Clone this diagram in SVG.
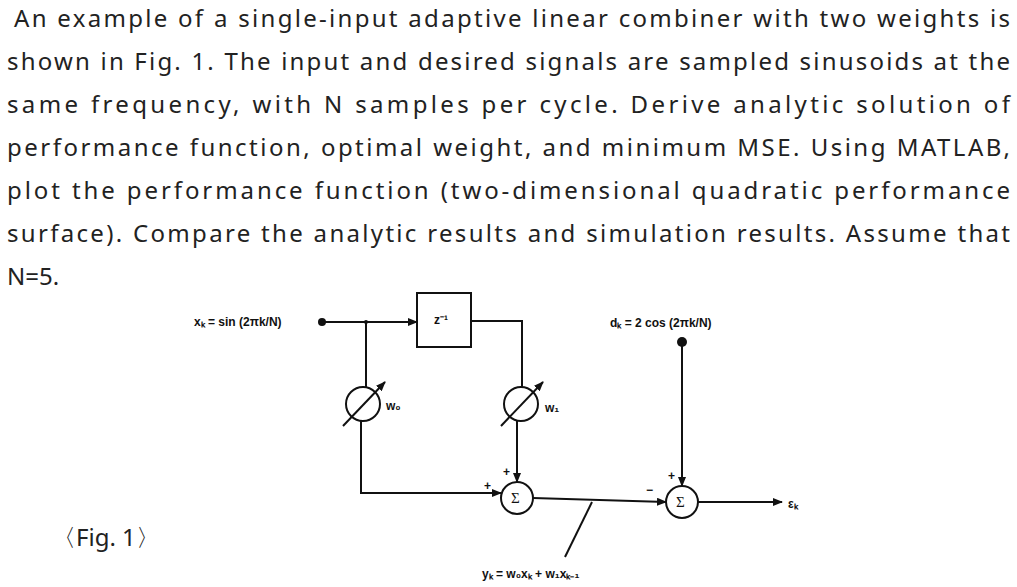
<svg xmlns="http://www.w3.org/2000/svg" width="1017" height="587" viewBox="0 0 1017 587">
<style>
.p{font-family:"Noto Sans","Open Sans",sans-serif;font-size:24px;fill:#222}
.l{font-family:"Liberation Sans",Arial,sans-serif;font-size:12px;font-weight:bold;fill:#111}
.s{font-family:"Liberation Serif",serif;font-size:15px;fill:#111}
.w{stroke:#111;stroke-width:2;fill:none}
</style>
<defs><marker id="a" markerWidth="10" markerHeight="8" refX="9" refY="4" orient="auto" markerUnits="userSpaceOnUse"><path d="M0,0L10,4L0,8z" fill="#111"/></marker></defs>
<rect width="1017" height="587" fill="#fff"/>
<g id="text">
<text class="p" x="14" y="27" textLength="996" lengthAdjust="spacing">An example of a single-input adaptive linear combiner with two weights is</text>
<text class="p" x="7" y="70" textLength="1003" lengthAdjust="spacing">shown in Fig. 1. The input and desired signals are sampled sinusoids at the</text>
<text class="p" x="7" y="113" textLength="1003" lengthAdjust="spacing">same frequency, with N samples per cycle. Derive analytic solution of</text>
<text class="p" x="7" y="156" textLength="1003" lengthAdjust="spacing">performance function, optimal weight, and minimum MSE. Using MATLAB,</text>
<text class="p" x="7" y="199" textLength="1003" lengthAdjust="spacing">plot the performance function (two-dimensional quadratic performance</text>
<text class="p" x="7" y="242" textLength="1003" lengthAdjust="spacing">surface). Compare the analytic results and simulation results. Assume that</text>
<text class="p" x="7" y="285">N=5.</text>
<text class="p" x="52" y="546">〈Fig. 1〉</text>
</g>
<g id="delay"><rect x="417" y="293" width="54" height="54" class="w"/><text class="l" x="434" y="324">z⁻¹</text></g>
<g id="w0"><circle cx="363" cy="404" r="17" class="w"/><path d="M343,426L385,382" class="w" marker-end="url(#a)"/><text class="l" x="386" y="410">w₀</text></g>
<g id="w1"><circle cx="521" cy="404" r="17" class="w"/><path d="M501,426L543,382" class="w" marker-end="url(#a)"/><text class="l" x="545" y="412">w₁</text></g>
<g id="sum1"><circle cx="517" cy="498" r="16" class="w"/><text class="s" x="511" y="503">Σ</text></g>
<g id="sum2"><circle cx="682" cy="502" r="16" class="w"/><text class="s" x="676" y="507">Σ</text></g>
<g id="connectors">
<circle cx="322" cy="322" r="4" fill="#111"/>
<circle cx="366" cy="322" r="2" fill="#111"/>
<circle cx="682" cy="342" r="5" fill="#111"/>
<path d="M322,322H417" class="w" marker-end="url(#a)"/>
<path d="M366,322V387" class="w"/>
<path d="M471,321H522V387" class="w"/>
<path d="M361,421V493H501" class="w" marker-end="url(#a)"/>
<path d="M517,421V482" class="w" marker-end="url(#a)"/>
<path d="M533,498L666,502" class="w" marker-end="url(#a)"/>
<path d="M682,342V486" class="w" marker-end="url(#a)"/>
<path d="M698,502H782" class="w" marker-end="url(#a)"/>
<path d="M565,557L592,502" class="w" stroke-width="1.5"/>
</g>
<g id="labels">
<text class="l" x="194" y="326">xₖ = sin (2πk/N)</text>
<text class="l" x="610" y="327">dₖ = 2 cos (2πk/N)</text>
<text class="l" x="788" y="508">εₖ</text>
<text class="l" x="482" y="578">yₖ = w₀xₖ + w₁xₖ₋₁</text>
<text class="l" x="503" y="476">+</text>
<text class="l" x="484" y="490">+</text>
<text class="l" x="646" y="494">−</text>
<text class="l" x="668" y="480">+</text>
</g>
</svg>
